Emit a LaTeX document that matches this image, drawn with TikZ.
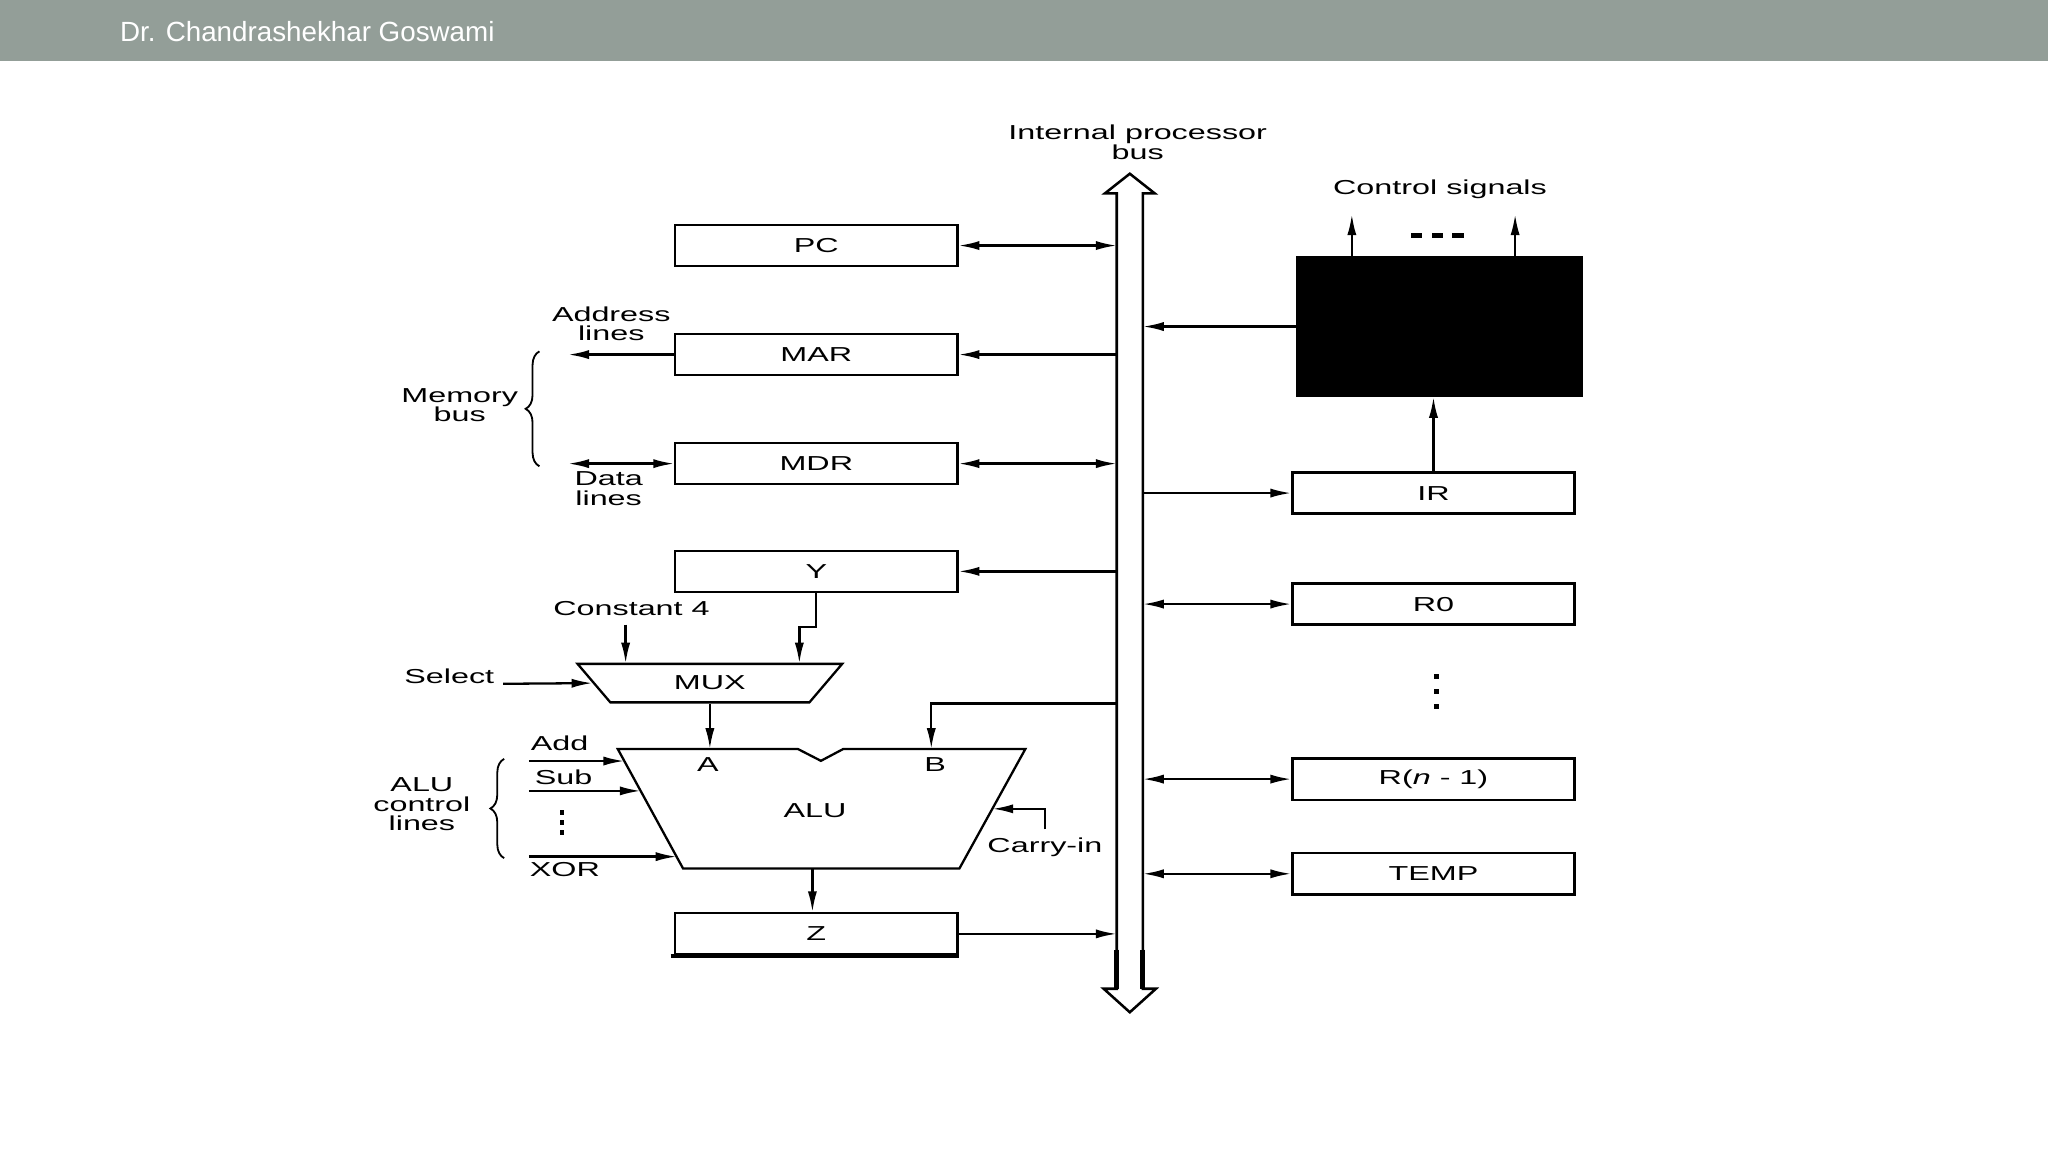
\documentclass[tikz,border=0pt]{standalone}
\usepackage{fontspec}
\setmainfont{Liberation Sans}
\newfontfamily\figfont[FakeStretch=1.6]{Liberation Sans}
\usetikzlibrary{shapes.geometric, arrows.meta, positioning, calc,
  decorations.pathreplacing}
\definecolor{headgray}{RGB}{147,158,152}
\tikzstyle{reg}=[draw,rectangle,minimum width=4.32cm,minimum height=0.63cm,inner sep=0pt]
\tikzstyle{every node}=[font=\figfont\fontsize{8.8}{8.5}\selectfont]
\tikzstyle{lbl}=[align=center,inner sep=1pt]
\tikzstyle{brc}=[decorate,decoration={brace,amplitude=6pt},line width=0.8pt]

\begin{document}
\begin{tikzpicture}[x=0.02cm,y=-0.02cm,>={Latex[length=3.2mm,width=1.4mm]},line width=1pt]
  \useasboundingbox (0,0) rectangle (1568,900);
  % title bar
  \fill[headgray] (0,0) rectangle (1568,47);
  \node[anchor=west,inner sep=0pt,text=white,font=\fontsize{12.1}{14}\selectfont] (author) at (91,24) {Dr. Chandrashekhar Goswami};

  % internal bus
  \coordinate (busL) at (855,0);
  \coordinate (busR) at (875,0);
  \draw[line width=1.1pt] (855,757) -- (855,148) -- (846,148) -- (865,133) -- (884,148) -- (875,148)
    -- (875,757) -- (885,757) -- (865,775) -- (845,757) -- cycle;
  \draw[line width=2.2pt] (855,727) -- (855,757) (875,727) -- (875,757);
  \node[lbl] (buslbl) at (871,109) {Internal processor\\bus};

  % registers on the left
  \node[reg] (pc) at (625,188) {PC};
  \node[reg,below of=pc,node distance=1.67cm] (mar) {MAR};
  \node[reg,below of=mar,node distance=1.67cm] (mdr) {MDR};
  \node[reg,below of=mdr,node distance=1.65cm] (y) {Y};
  \node[reg] (z) at (625,715) {Z};
  \draw[line width=1.8pt] ([xshift=-1.5pt]z.south west) -- (z.south east);

  % registers on the right
  \node[reg] (ir) at (1097.5,377.5) {IR};
  \node[reg,below of=ir,node distance=1.7cm] (r0) {R0};
  \node[reg] (rn) at (1097.5,596.5) {R(\textit{n} - 1)};
  \node[reg,below of=rn,node distance=1.45cm] (temp) {TEMP};
  \node[draw,fill=black,minimum width=4.36cm,minimum height=2.12cm] (ctrl) at (1102,250) {};
  \foreach \k in {0,1,2} \fill (1097.8,516+11.5*\k) rectangle ++(3.8,3.5);

  % mux and alu
  \node[draw,trapezium,shape border rotate=180,trapezium stretches=true,trapezium angle=50,
    minimum width=4.06cm,minimum height=0.59cm,inner sep=0pt] (mux) at (543.5,523) {MUX};
  \coordinate (alutl) at (473,573.5);
  \coordinate (alutr) at (785,573.5);
  \coordinate (alubr) at (734.5,665);
  \coordinate (alubl) at (523,665);
  \draw (alutl) -- (611,573.5) -- (628.5,582.5) -- (645.5,573.5) -- (alutr) -- (alubr) -- (alubl) -- cycle;
  \node (alu) at (624,621) {ALU};
  \node (alua) at (542,585) {A};
  \node (alub) at (716,585) {B};

  % bus connections
  \draw[<->] (pc.east) -- (pc.east -| busL);
  \draw[->] (mar.east -| busL) -- (mar.east);
  \draw[<->] (mdr.east) -- (mdr.east -| busL);
  \draw[->] (y.east -| busL) -- (y.east);
  \draw[->] (z.east) -- (z.east -| busL);
  \draw[->] (ctrl.west) -- (ctrl.west -| busR);
  \draw[->] (ir.west -| busR) -- (ir.west);
  \draw[<->] (r0.west -| busR) -- (r0.west);
  \draw[<->] (rn.west -| busR) -- (rn.west);
  \draw[<->] (temp.west -| busR) -- (temp.west);

  % control unit
  \draw[->] (ir.north) -- (ir.north |- ctrl.south);
  \coordinate (sig1) at (1035,164);
  \coordinate (sig2) at (1160,164);
  \draw[->] (ctrl.north -| sig1) -- (sig1);
  \draw[->] (ctrl.north -| sig2) -- (sig2);
  \node (ctrlsig) at (1102.5,145) {Control signals};
  \foreach \k in {0,1,2} \fill (1080+16*\k,178.5) rectangle ++(9,3.5);

  % memory bus
  \coordinate (memend) at (435,0);
  \draw[->] (mar.west) -- (mar.west -| memend);
  \draw[<->] (mdr.west -| memend) -- (mdr.west);
  \node[lbl] (addr) at (468,248) {Address\\lines};
  \node[lbl] (data) at (466,374) {Data\\lines};
  \draw[brc] (413,357) -- (413,269);
  \node[lbl] (membus) at (352,310) {Memory\\bus};

  % mux inputs
  \node (const) at (483.5,466) {Constant 4};
  \coordinate (muxa) at (479,508);
  \coordinate (muxb) at (612,508);
  \draw[->] (const.south -| muxa) -- (muxa);
  \draw[->] (y.south) -- ++(0,26) -| (muxb);
  \node (sel) at (344,518) {Select};
  \draw[->] (sel.base east) -- (mux.west);

  % alu inputs and output
  \draw[->] (mux.south) -- (mux.south |- alutl);
  \coordinate (inb) at (713,573.5);
  \draw[->] (busL |- mux.south) -| (inb);
  \coordinate (ctl) at (405,0);
  \coordinate (cadd) at ($(alutl)!0.1!(alubl)$);
  \coordinate (csub) at ($(alutl)!0.35!(alubl)$);
  \coordinate (cxor) at ($(alutl)!0.9!(alubl)$);
  \draw[->] (cadd -| ctl) -- (cadd);
  \draw[->] (csub -| ctl) -- (csub);
  \draw[->] (cxor -| ctl) -- (cxor);
  \node (add) at (428.5,569) {Add};
  \node (sub) at (431.5,595) {Sub};
  \node (xor) at (432.5,665.5) {XOR};
  \foreach \k in {0,1,2} \fill (428.5,620.5+7.5*\k) rectangle ++(3.5,3.5);
  \draw[brc] (386,657) -- (386,581);
  \node[lbl] (ctllbl) at (323,616) {ALU\\control\\lines};
  \coordinate (cin) at ($(alutr)!0.5!(alubr)$);
  \node (carry) at (800,649) {Carry-in};
  \draw[->] (carry.north) |- (cin);
  \coordinate (aluout) at (622,665);
  \draw[->] (aluout) -- (aluout |- z.north);
\end{tikzpicture}
\end{document}
